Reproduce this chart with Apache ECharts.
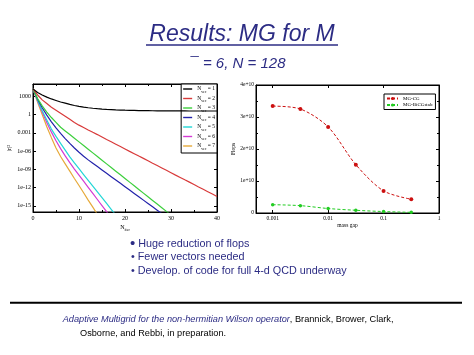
<!DOCTYPE html>
<html><head><meta charset="utf-8">
<script src="https://cdn.jsdelivr.net/npm/echarts@6/dist/echarts.min.js"></script>
<style>html,body{margin:0;padding:0;background:#fff}#c{width:474px;height:355px}</style>
</head><body><div id="c"></div>
<script>
// ---------- Left chart: log10 |r|^2 vs iteration, one array per N_vec ----------
const nVecValues = [1, 2, 3, 4, 5, 6, 7];
const logResNvec1 = [4.2, 3.6, 3.2, 2.85, 2.55, 2.3, 2.05, 1.85, 1.65, 1.47, 1.32, 1.2, 1.1, 1.02, 0.95, 0.89, 0.84, 0.8, 0.76, 0.73, 0.7, 0.68, 0.66, 0.64, 0.63, 0.62, 0.61, 0.6, 0.6, 0.59, 0.59, 0.58, 0.58, 0.58, 0.57, 0.57, 0.57, 0.57, 0.57, 0.57, 0.57];
const logResNvec2 = [4.2, 3.2, 2.4, 1.8, 1.2, 0.7, 0.2, -0.3, -0.8, -1.3, -1.75, -2.15, -2.55, -2.93, -3.3, -3.7, -4.1, -4.48, -4.87, -5.26, -5.65, -6.05, -6.43, -6.82, -7.2, -7.6, -8.0, -8.38, -8.77, -9.16, -9.55, -9.95, -10.33, -10.72, -11.1, -11.5, -11.9, -12.28, -12.67, -13.06, -13.45];
const logResNvec3 = [4.2, 2.6, 1.4, 0.4, -0.5, -1.3, -2.1, -2.7, -3.3, -3.9, -4.5, -5.1, -5.7, -6.3, -6.9, -7.5, -8.1, -8.7, -9.3, -9.9, -10.5, -11.1, -11.7, -12.3, -12.9, -13.5, -14.1, -14.7, -15.3, -15.9, -16.5];
const logResNvec4 = [4.2, 2.5, 1.1, -0.1, -1.2, -2.2, -3.1, -3.95, -4.75, -5.5, -6.2, -6.85, -7.45, -8.0, -8.55, -9.1, -9.65, -10.2, -10.75, -11.3, -11.85, -12.4, -12.95, -13.5, -14.05, -14.6, -15.15, -15.7, -16.25];
const logResNvec5 = [4.2, 2.3, 0.6, -0.9, -2.4, -3.6, -4.75, -5.85, -6.95, -7.95, -8.9, -9.85, -10.8, -11.75, -12.7, -13.65, -14.6, -15.55, -16.5];
const logResNvec6 = [4.2, 2.2, 0.4, -1.3, -2.9, -4.3, -5.6, -6.8, -7.9, -8.95, -9.95, -10.95, -11.95, -12.95, -13.95, -14.95, -15.95, -16.95];
const logResNvec7 = [4.2, 2.0, 0.0, -2.0, -3.8, -5.5, -6.9, -8.1, -9.3, -10.5, -11.65, -12.85, -14.05, -15.2, -16.4];
const logResSeries = [logResNvec1, logResNvec2, logResNvec3, logResNvec4, logResNvec5, logResNvec6, logResNvec7];
const logResTickValues = [-15, -12, -9, -6, -3, 0, 3];
const logResTickLabels = ['1e-15', '1e-12', '1e-09', '1e-06', '0.001', '1', '1000'];

// ---------- Right chart: flops vs mass gap ----------
const massGap = [0.001, 0.00316, 0.01, 0.0316, 0.1, 0.316];
const flopsMGCG = [3.34e10, 3.25e10, 2.69e10, 1.51e10, 0.69e10, 0.43e10];
const flopsMGBiCGstab = [0.26e10, 0.23e10, 0.14e10, 0.085e10, 0.045e10, 0.02e10];
const flopsTickLabels = ['0', '1e+10', '2e+10', '3e+10', '4e+10'];

// ---------- styles ----------
const lineColors = ['#000000', '#d83a3a', '#3ccf3c', '#2222aa', '#22d6d6', '#d43ad4', '#e6a93a'];
const navy = '#2c2c84';
const serif = 'Liberation Serif';
const sans = 'Liberation Sans';

const chart = echarts.init(document.getElementById('c'), null, {renderer: 'canvas'});

const tickFont = {fontFamily: serif, fontSize: 6, color: '#000'};
const axLine = {show: true, onZero: false, lineStyle: {color: '#000', width: 1}};

const leftSeries = logResSeries.map((arr, k) => ({
  name: 'N_vec = ' + nVecValues[k],
  type: 'line',
  xAxisIndex: 0, yAxisIndex: 0,
  data: arr.map((v, i) => [i, v]),
  symbol: 'none',
  clip: true,
  lineStyle: {color: lineColors[k], width: 1.2},
  itemStyle: {color: lineColors[k]},
  z: 10 - k
}));

const option = {
  animation: false,
  backgroundColor: '#fff',
  grid: [
    {left: 33, top: 84, width: 184, height: 128, show: true, borderColor: '#000', borderWidth: 1, containLabel: false},
    {left: 256, top: 85, width: 183, height: 128, show: true, borderColor: '#000', borderWidth: 1, containLabel: false}
  ],
  xAxis: [
    {gridIndex: 0, type: 'value', min: 0, max: 40, interval: 10, position: 'bottom',
     axisLine: axLine, axisTick: {inside: true, length: 3, lineStyle: {color: '#000'}},
     minorTick: {show: true, splitNumber: 2, length: 2, lineStyle: {color: '#000'}},
     splitLine: {show: false}, axisLabel: Object.assign({margin: 3}, tickFont),
     name: '{n|N}{s|iter}', nameLocation: 'middle', nameGap: 10,
     nameTextStyle: {rich: {n: {fontFamily: serif, fontSize: 6, color: '#000', lineHeight: 8, verticalAlign: 'bottom'},
                            s: {fontFamily: serif, fontSize: 4, color: '#000', lineHeight: 8, verticalAlign: 'bottom', padding: [0,0,-2,0]}}}},
    {gridIndex: 0, type: 'value', min: 0, max: 40, interval: 10, position: 'top',
     axisLine: axLine, axisTick: {inside: true, length: 3, lineStyle: {color: '#000'}},
     minorTick: {show: true, splitNumber: 2, length: 2, lineStyle: {color: '#000'}},
     splitLine: {show: false}, axisLabel: {show: false}},
    {gridIndex: 1, type: 'log', logBase: 10, min: 0.0005, max: 1, position: 'bottom',
     axisLine: axLine, axisTick: {inside: true, length: 3, lineStyle: {color: '#000'}},
     splitLine: {show: false},
     axisLabel: Object.assign({margin: 3, showMinLabel: false, formatter: v => String(Number(v.toPrecision(3)))}, tickFont, {fontSize: 5.5}),
     name: 'mass gap', nameLocation: 'middle', nameGap: 9,
     nameTextStyle: {fontFamily: serif, fontSize: 5.5, color: '#000'}},
    {gridIndex: 1, type: 'log', logBase: 10, min: 0.0005, max: 1, position: 'top',
     axisLine: axLine, axisTick: {inside: true, length: 3, lineStyle: {color: '#000'}},
     splitLine: {show: false}, axisLabel: {show: false}}
  ],
  yAxis: [
    {gridIndex: 0, type: 'value', min: -16, max: 5, position: 'left',
     axisLine: axLine,
     axisTick: {inside: true, length: 3, customValues: logResTickValues, lineStyle: {color: '#000'}},
     splitLine: {show: false},
     axisLabel: Object.assign({margin: 2, customValues: logResTickValues,
       formatter: v => { const j = logResTickValues.indexOf(v); return j >= 0 ? logResTickLabels[j] : ''; }}, tickFont),
     name: '|r|\u00b2', nameLocation: 'middle', nameGap: 21, nameRotate: 90,
     nameTextStyle: {fontFamily: serif, fontSize: 6, color: '#000'}},
    {gridIndex: 0, type: 'value', min: -16, max: 5, position: 'right',
     axisLine: axLine,
     axisTick: {inside: true, length: 3, customValues: logResTickValues, lineStyle: {color: '#000'}},
     splitLine: {show: false}, axisLabel: {show: false}},
    {gridIndex: 1, type: 'value', min: 0, max: 4e10, interval: 1e10, position: 'left',
     axisLine: axLine, axisTick: {inside: true, length: 3, lineStyle: {color: '#000'}},
     minorTick: {show: true, splitNumber: 2, length: 2, lineStyle: {color: '#000'}},
     splitLine: {show: false},
     axisLabel: Object.assign({margin: 2, formatter: v => flopsTickLabels[Math.round(v / 1e10)]}, tickFont, {fontSize: 5.5}),
     name: 'Flops', nameLocation: 'middle', nameGap: 19, nameRotate: 90,
     nameTextStyle: {fontFamily: serif, fontSize: 5.5, color: '#000'}},
    {gridIndex: 1, type: 'value', min: 0, max: 4e10, interval: 1e10, position: 'right',
     axisLine: axLine, axisTick: {inside: true, length: 3, lineStyle: {color: '#000'}},
     minorTick: {show: true, splitNumber: 2, length: 2, lineStyle: {color: '#000'}},
     splitLine: {show: false}, axisLabel: {show: false}}
  ],
  legend: [
    {data: leftSeries.map(s => s.name), orient: 'vertical', right: 257, top: 84,
     backgroundColor: '#fff', borderColor: '#000', borderWidth: 1, borderRadius: 0,
     padding: [2, 2, 2, 2], icon: 'rect', itemWidth: 9, itemHeight: 1.4, itemGap: 1.5, selectedMode: false,
     formatter: name => '{n|N}{s|vec}{n| = ' + name.split('= ')[1] + '}',
     textStyle: {rich: {n: {fontFamily: serif, fontSize: 5.5, color: '#000', lineHeight: 6, verticalAlign: 'bottom'},
                        s: {fontFamily: serif, fontSize: 3.8, color: '#000', lineHeight: 6, verticalAlign: 'bottom', padding: [0,0,-2,0]}}}},
    {data: ['MG-CG', 'MG-BiCGstab'], orient: 'vertical', left: 384, top: 94,
     backgroundColor: '#fff', borderColor: '#000', borderWidth: 1, borderRadius: 0,
     padding: [2, 3, 2, 2], itemWidth: 11, itemHeight: 4, itemGap: 1.5, selectedMode: false,
     textStyle: {fontFamily: serif, fontSize: 5, color: '#000'}}
  ],
  series: leftSeries.concat([
    {name: 'MG-CG', type: 'line', xAxisIndex: 2, yAxisIndex: 2,
     data: massGap.map((m, i) => [m, flopsMGCG[i]]), smooth: 0.3,
     symbol: 'circle', symbolSize: 4, showSymbol: true,
     lineStyle: {color: '#cc1010', width: 1, type: [3, 2]}, itemStyle: {color: '#cc1010'}},
    {name: 'MG-BiCGstab', type: 'line', xAxisIndex: 2, yAxisIndex: 2,
     data: massGap.map((m, i) => [m, flopsMGBiCGstab[i]]), smooth: 0.3,
     symbol: 'circle', symbolSize: 3.5, showSymbol: true,
     lineStyle: {color: '#22cc22', width: 1, type: [3, 2]}, itemStyle: {color: '#22cc22'}}
  ]),
  graphic: [
    {type: 'text', style: {text: 'Results: MG for M', x: 242, y: 34.5, align: 'center', verticalAlign: 'middle',
      fontFamily: sans, fontStyle: 'italic', fontSize: 23, fill: navy}},
    {type: 'line', shape: {x1: 146, y1: 45, x2: 338, y2: 45}, style: {stroke: navy, lineWidth: 1.3}},
    {type: 'text', style: {text: '\u00af = 6, N = 128', x: 238, y: 64, align: 'center', verticalAlign: 'middle',
      fontFamily: sans, fontStyle: 'italic', fontSize: 15, fill: navy}},
    {type: 'text', style: {text: '{b|\u2022} Huge reduction of flops', x: 130, y: 244, verticalAlign: 'middle',
      rich: {b: {fontSize: 15, fill: navy, fontFamily: sans}}, fontFamily: sans, fontSize: 10.8, fill: navy}},
    {type: 'text', style: {text: '\u2022 Fewer vectors needed', x: 131, y: 257.3, verticalAlign: 'middle',
      fontFamily: sans, fontSize: 10.8, fill: navy}},
    {type: 'text', style: {text: '\u2022 Develop. of code for full 4-d QCD underway', x: 131, y: 270.7, verticalAlign: 'middle',
      fontFamily: sans, fontSize: 10.8, fill: navy}},
    {type: 'line', shape: {x1: 10, y1: 302.7, x2: 462, y2: 302.7}, style: {stroke: '#000', lineWidth: 2}},
    {type: 'text', style: {text: '{i|Adaptive Multigrid for the non-hermitian Wilson operator}{n|, Brannick, Brower, Clark,}',
      x: 62.7, y: 319.3, verticalAlign: 'middle',
      rich: {i: {fontFamily: sans, fontStyle: 'italic', fontSize: 9.2, fill: navy},
             n: {fontFamily: sans, fontSize: 9.2, fill: '#000'}}}},
    {type: 'text', style: {text: 'Osborne, and Rebbi, in preparation.', x: 80, y: 333.3, verticalAlign: 'middle',
      fontFamily: sans, fontSize: 9.2, fill: '#000'}}
  ]
};
chart.setOption(option);
</script>
</body></html>
